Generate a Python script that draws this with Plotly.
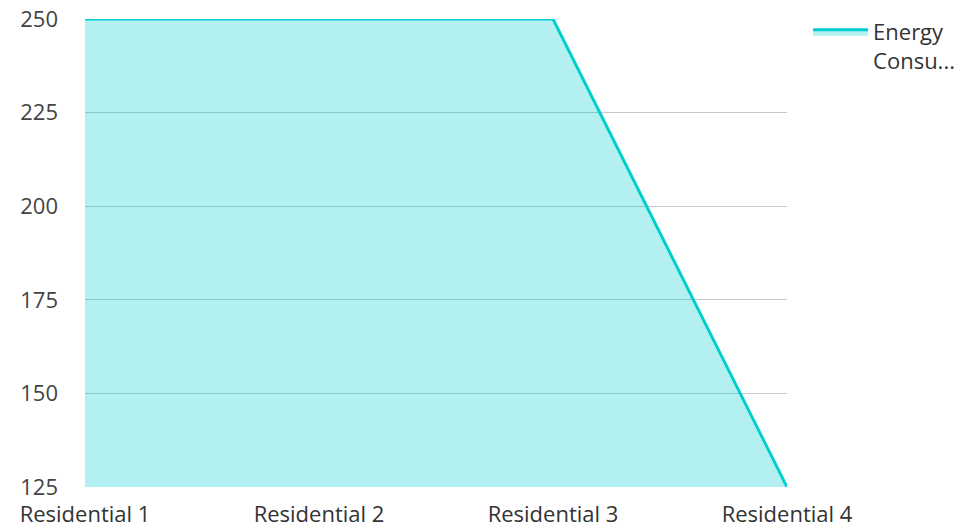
import plotly.graph_objects as go

categories = ["Residential 1", "Residential 2", "Residential 3", "Residential 4"]
energy = [250, 250, 250, 125]
series_name = "Energy<br>Consu..."
y_ticks = [125, 150, 175, 200, 225, 250]

fig = go.Figure()
fig.add_trace(go.Scatter(
    x=categories, y=energy, name=series_name, mode="lines",
    line=dict(color="#00CED1", width=3),
    fill="tozeroy", fillcolor="rgba(0,206,209,0.3)",
))

fig.update_layout(
    width=966, height=528,
    margin=dict(l=85, r=179, t=19, b=41, autoexpand=False),
    paper_bgcolor="white", plot_bgcolor="white",
    font=dict(family="Open Sans", size=22, color="#333333"),
    showlegend=True,
    legend=dict(x=1.03, y=1.017, xanchor="left", yanchor="top",
                font=dict(size=22, color="#333333"), itemwidth=55,
                valign="top", tracegroupgap=0),
    xaxis=dict(range=[0, 3], showgrid=False, zeroline=False, showline=False,
               ticks="", automargin=False, ticklabelstandoff=12,
               tickfont=dict(size=22, color="#333333"), fixedrange=True),
    yaxis=dict(range=[125, 250], tickvals=y_ticks, showgrid=True,
               gridcolor="#c8c8c8", gridwidth=1, zeroline=False, showline=False,
               ticks="", automargin=False, ticklabelstandoff=26,
               tickfont=dict(size=22, color="#444444")),
)

fig.write_html("out.html")
